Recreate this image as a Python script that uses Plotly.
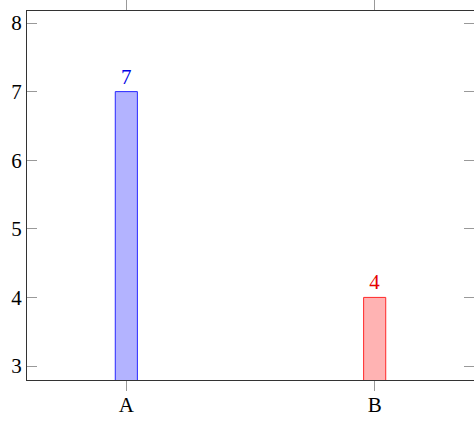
import plotly.graph_objects as go

categories = ["A", "B"]
values = [7, 4]
fill_colors = ["rgb(179,179,255)", "rgb(255,179,179)"]
line_colors = ["rgb(40,40,255)", "rgb(255,40,40)"]
label_colors = ["rgb(0,0,230)", "rgb(230,0,0)"]
y_ticks = [3, 4, 5, 6, 7, 8]

serif = "Liberation Serif, DejaVu Serif, Times New Roman, serif"

fig = go.Figure()

# one trace per bar so each gets its own edge colour
for cat, val, fc, lc, tc in zip(categories, values, fill_colors, line_colors, label_colors):
    fig.add_trace(
        go.Bar(
            x=[cat],
            y=[val],
            width=0.089,
            marker=dict(color=fc, line=dict(color=lc, width=1)),
            text=[str(val)],
            textposition="outside",
            textfont=dict(color=tc, size=21, family=serif),
            cliponaxis=False,
            showlegend=False,
        )
    )

fig.update_layout(
    width=474,
    height=421,
    margin=dict(l=27, r=0, t=11, b=41),
    barmode="overlay",
    paper_bgcolor="white",
    plot_bgcolor="white",
    font=dict(family=serif, size=21, color="black"),
    xaxis=dict(
        type="category",
        categoryarray=categories,
        range=[-0.4, 1.4],
        automargin=False,
        showgrid=False,
        showline=True,
        linecolor="#333",
        linewidth=1,
        mirror="ticks",
        ticks="outside",
        ticklen=10,
        tickcolor="#999",
        tickwidth=1,
        ticklabelstandoff=-4,
    ),
    yaxis=dict(
        range=[2.796, 8.175],
        tickvals=y_ticks,
        automargin=False,
        showgrid=False,
        zeroline=False,
        showline=True,
        linecolor="#333",
        linewidth=1,
        mirror="ticks",
        ticks="inside",
        ticklen=10,
        tickcolor="#999",
        tickwidth=1,
    ),
)

fig.write_html(
    "out.html",
    config={"displayModeBar": False},
    post_script="document.body.style.margin='0';",
)
